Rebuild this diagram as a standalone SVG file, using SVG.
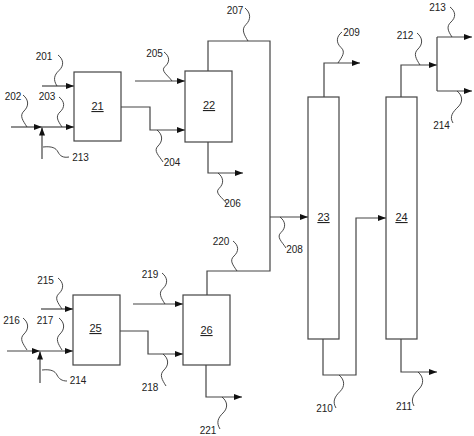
<svg xmlns="http://www.w3.org/2000/svg" width="474" height="436" viewBox="0 0 474 436">
<style>
.ln{fill:none;stroke:#444;stroke-width:1.2}
.ar{fill:none;stroke:#444;stroke-width:1.2;marker-end:url(#ah)}
.sq{fill:none;stroke:#333;stroke-width:0.9}
.bx{fill:#fff;stroke:#444;stroke-width:1.2}
.lb{font-family:"Liberation Sans",Arial,sans-serif;font-size:10px;fill:#222;text-anchor:middle}
.bl{font-family:"Liberation Sans",Arial,sans-serif;font-size:11px;fill:#222;text-anchor:middle;text-decoration:underline}
</style>
<defs>
<marker id="ah" markerUnits="userSpaceOnUse" markerWidth="9" markerHeight="6" refX="8" refY="3" orient="auto">
<path d="M0,0 L8,3 L0,6 z" fill="#111"/>
</marker>
</defs>
<g id="connectors">
<line class="ar" x1="42" y1="86" x2="74" y2="86"/>
<line class="ar" x1="11" y1="127" x2="42" y2="127"/>
<line class="ar" x1="42" y1="127" x2="74" y2="127"/>
<line class="ar" x1="42" y1="159" x2="42" y2="127.5"/>
<polyline class="ar" points="121,107 150,107 150,130 185,130"/>
<line class="ar" x1="135" y1="81" x2="185" y2="81"/>
<polyline class="ln" points="208,71 208,41 270,41 270,271 207,271 207,295"/>
<polyline class="ar" points="208,142 208,173 243,173"/>
<line class="ar" x1="270" y1="217" x2="308" y2="217"/>
<line class="ar" x1="133" y1="304" x2="183" y2="304"/>
<polyline class="ar" points="120,331 148,331 148,354 183,354"/>
<polyline class="ar" points="206,365 206,397 242,397"/>
<line class="ar" x1="41" y1="309" x2="73" y2="309"/>
<line class="ar" x1="7" y1="351" x2="40" y2="351"/>
<line class="ar" x1="40" y1="351" x2="73" y2="351"/>
<line class="ar" x1="40" y1="383" x2="40" y2="351.5"/>
<polyline class="ar" points="324,97 324,63 360,63"/>
<polyline class="ar" points="323,339 323,375 356,375 356,218 386,218"/>
<polyline class="ar" points="401,339 401,372 437,372"/>
<polyline class="ar" points="401,97 401,65 437,65"/>
<line class="ln" x1="437" y1="37" x2="437" y2="91"/>
<line class="ar" x1="437" y1="37" x2="472" y2="37"/>
<line class="ar" x1="437" y1="91" x2="472" y2="91"/>
</g>
<g id="leaders">
<path class="sq" d="M58 55 c6 4.6 6 10.9 1 15.5 s-6 9.3 -2 15.5"/>
<path class="sq" d="M23 95 c6 4.8 6 11.2 1 16 s-1 9.6 3 16"/>
<path class="sq" d="M59 97 c6 4.5 6 10.5 1 15 s-2 9 2 15"/>
<path class="sq" d="M43 147 C52 146 56 148 58 152 S63 158 69 157"/>
<path class="sq" d="M164 52 c6 4.4 6 10.2 1 14.5 s3 8.7 7 14.5"/>
<path class="sq" d="M245 8 c6 5 6 11.6 1 16.5 s-2 9.9 2 16.5"/>
<path class="sq" d="M157 130 c6 4.8 6 11.2 1 16 s1 9.6 5 16"/>
<path class="sq" d="M218 173 c6 4.6 6 10.9 1 15.5 s4 9.3 8 15.5"/>
<path class="sq" d="M280 217 c6 4.6 6 10.9 1 15.5 s1 9.3 5 15.5"/>
<path class="sq" d="M233 241 c6 4.5 6 10.5 1 15 s-1 9 3 15"/>
<path class="sq" d="M162 273 c6 4.6 6 10.9 1 15.5 s-2 9.3 2 15.5"/>
<path class="sq" d="M163 354 c6 4.8 6 11.2 1 16 s-2 9.6 2 16"/>
<path class="sq" d="M222 397 c6 4.8 6 11.2 1 16 s-7 9.6 -3 16"/>
<path class="sq" d="M342 32 c-6 4.6 -6 10.9 -1 15.5 s1 9.3 -3 15.5"/>
<path class="sq" d="M339 375 c6 5 6 11.6 1 16.5 s-8 9.9 -4 16.5"/>
<path class="sq" d="M418 372 c6 5.1 6 11.9 1 17 s-9 10.2 -5 17"/>
<path class="sq" d="M417 33 c6 4.8 6 11.2 1 16 s-2 9.6 2 16"/>
<path class="sq" d="M450 7 c6 4.5 6 10.5 1 15 s-3 9 1 15"/>
<path class="sq" d="M457 91 c6 4.8 6 11.2 1 16 s-9 9.6 -5 16"/>
<path class="sq" d="M58 278 c6 4.6 6 10.9 1 15.5 s-1 9.3 3 15.5"/>
<path class="sq" d="M23 318 c6 4.8 6 11.2 1 16 s-1 9.6 3 16"/>
<path class="sq" d="M59 318 c6 4.8 6 11.2 1 16 s-2 9.6 2 16"/>
<path class="sq" d="M42 370 C51 369 55 371 57 375 S62 381 67 381"/>
</g>
<g id="labels">
<text class="lb" x="44" y="59.5">201</text>
<text class="lb" x="13" y="100">202</text>
<text class="lb" x="47" y="100">203</text>
<text class="lb" x="80.5" y="160.5">213</text>
<text class="lb" x="154.5" y="56.5">205</text>
<text class="lb" x="235" y="13.5">207</text>
<text class="lb" x="172" y="166">204</text>
<text class="lb" x="232.5" y="206.5">206</text>
<text class="lb" x="351.5" y="36">209</text>
<text class="lb" x="405" y="38.5">212</text>
<text class="lb" x="437.5" y="11">213</text>
<text class="lb" x="441.5" y="128.5">214</text>
<text class="lb" x="45.5" y="283.5">215</text>
<text class="lb" x="11.5" y="324">216</text>
<text class="lb" x="45" y="324">217</text>
<text class="lb" x="78" y="384">214</text>
<text class="lb" x="150" y="277.5">219</text>
<text class="lb" x="221" y="245">220</text>
<text class="lb" x="294.5" y="253">208</text>
<text class="lb" x="150" y="390.5">218</text>
<text class="lb" x="208" y="433.5">221</text>
<text class="lb" x="324.5" y="411.5">210</text>
<text class="lb" x="404" y="410">211</text>
</g>
<g id="n21"><rect class="bx" x="74" y="72" width="47" height="69"/><text class="bl" x="97.5" y="110">21</text></g>
<g id="n22"><rect class="bx" x="185" y="71" width="47" height="71"/><text class="bl" x="209" y="109">22</text></g>
<g id="n23"><rect class="bx" x="308" y="97" width="31" height="242"/><text class="bl" x="323.5" y="221">23</text></g>
<g id="n24"><rect class="bx" x="386" y="97" width="31" height="242"/><text class="bl" x="401.5" y="221">24</text></g>
<g id="n25"><rect class="bx" x="73" y="295" width="47" height="70"/><text class="bl" x="95.5" y="332">25</text></g>
<g id="n26"><rect class="bx" x="183" y="295" width="47" height="70"/><text class="bl" x="206.5" y="334">26</text></g>
</svg>
